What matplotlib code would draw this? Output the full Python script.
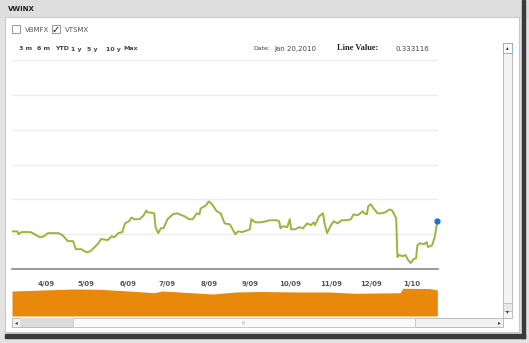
import numpy as np
import pandas as pd
import matplotlib.pyplot as plt
from matplotlib.patches import Rectangle

# price line (VTSMX relative value)
dates = ["2009-03-06", "2009-03-10", "2009-03-11", "2009-03-13", "2009-03-17", "2009-03-20",
         "2009-03-23", "2009-03-27", "2009-03-30", "2009-04-02", "2009-04-06", "2009-04-10",
         "2009-04-13", "2009-04-17", "2009-04-21", "2009-04-23", "2009-04-27", "2009-05-01",
         "2009-05-04", "2009-05-08", "2009-05-10", "2009-05-12", "2009-05-17", "2009-05-20",
         "2009-05-22", "2009-05-25", "2009-05-28", "2009-05-30", "2009-06-02", "2009-06-04",
         "2009-06-06", "2009-06-10", "2009-06-13", "2009-06-15", "2009-06-16", "2009-06-21",
         "2009-06-22", "2009-06-24", "2009-06-26", "2009-06-28", "2009-07-01", "2009-07-05",
         "2009-07-08", "2009-07-14", "2009-07-17", "2009-07-20", "2009-07-23", "2009-07-25",
         "2009-07-26", "2009-07-30", "2009-08-01", "2009-08-03", "2009-08-04", "2009-08-07",
         "2009-08-10", "2009-08-13", "2009-08-17", "2009-08-19", "2009-08-21", "2009-08-23",
         "2009-08-26", "2009-08-30", "2009-09-01", "2009-09-02", "2009-09-05", "2009-09-09",
         "2009-09-13", "2009-09-16", "2009-09-21", "2009-09-23", "2009-09-24", "2009-09-26",
         "2009-09-29", "2009-10-01", "2009-10-02", "2009-10-05", "2009-10-08", "2009-10-11",
         "2009-10-14", "2009-10-17", "2009-10-19", "2009-10-20", "2009-10-23", "2009-10-26",
         "2009-10-27", "2009-10-29", "2009-11-01", "2009-11-03", "2009-11-06", "2009-11-09",
         "2009-11-13", "2009-11-16", "2009-11-18", "2009-11-21", "2009-11-24", "2009-11-25",
         "2009-11-26", "2009-11-28", "2009-11-29", "2009-12-01", "2009-12-03", "2009-12-06",
         "2009-12-09", "2009-12-12", "2009-12-15", "2009-12-17", "2009-12-20", "2009-12-21",
         "2009-12-22", "2009-12-25", "2009-12-27", "2009-12-29", "2009-12-31", "2010-01-02",
         "2010-01-04", "2010-01-05", "2010-01-07", "2010-01-10", "2010-01-12", "2010-01-13",
         "2010-01-16", "2010-01-18", "2010-01-20"]
values = [0.304, 0.304, 0.296, 0.302, 0.302, 0.302,
          0.296, 0.287, 0.290, 0.299, 0.299, 0.299,
          0.293, 0.276, 0.276, 0.253, 0.253, 0.244,
          0.247, 0.262, 0.270, 0.282, 0.279, 0.290,
          0.287, 0.299, 0.302, 0.327, 0.333, 0.344,
          0.339, 0.339, 0.350, 0.364, 0.359, 0.356,
          0.316, 0.299, 0.313, 0.313, 0.339, 0.353,
          0.356, 0.347, 0.339, 0.339, 0.356, 0.353,
          0.370, 0.379, 0.390, 0.384, 0.379, 0.362,
          0.356, 0.327, 0.324, 0.310, 0.296, 0.304,
          0.302, 0.307, 0.310, 0.339, 0.330, 0.330,
          0.333, 0.336, 0.336, 0.333, 0.313, 0.319,
          0.316, 0.339, 0.310, 0.310, 0.316, 0.313,
          0.327, 0.322, 0.330, 0.322, 0.347, 0.356,
          0.330, 0.299, 0.322, 0.333, 0.327, 0.336,
          0.336, 0.339, 0.353, 0.350, 0.359, 0.362,
          0.356, 0.353, 0.376, 0.382, 0.370, 0.356,
          0.356, 0.359, 0.367, 0.364, 0.342, 0.230,
          0.236, 0.233, 0.236, 0.222, 0.213, 0.224,
          0.227, 0.264, 0.270, 0.267, 0.273, 0.259,
          0.264, 0.287, 0.333]

# volume strip
vol_dates = ["2009-03-06", "2009-04-21", "2009-05-11", "2009-06-02", "2009-06-21", "2009-06-27",
             "2009-07-10", "2009-08-04", "2009-08-21", "2009-09-09", "2009-10-08", "2009-10-31",
             "2009-11-19", "2009-12-23", "2009-12-25", "2010-01-14", "2010-01-20"]
vol_values = [25, 27, 26.7, 25, 23.3, 25, 24, 22, 24, 24.5, 24, 24, 22.7, 23.3, 27.7, 27.5, 26]

tick_dates = ["2009-04-01", "2009-05-01", "2009-06-01", "2009-07-01", "2009-08-01",
              "2009-09-01", "2009-10-01", "2009-11-01", "2009-12-01", "2010-01-01"]
tick_labels = ["4/09", "5/09", "6/09", "7/09", "8/09", "9/09", "10/09", "11/09", "12/09", "1/10"]

d = pd.to_datetime(dates)
vd = pd.to_datetime(vol_dates)
td = pd.to_datetime(tick_dates)
W, H = 529, 343
x0, x1 = pd.Timestamp("2009-03-06"), pd.Timestamp("2010-01-20 12:00")

fig = plt.figure(figsize=(W / 100, H / 100), dpi=100)
fig.patch.set_facecolor('#e3e3e3')

"window chrome drawn in pixel coordinates"
bg = fig.add_axes([0, 0, 1, 1])
bg.set_xlim(0, W)
bg.set_ylim(H, 0)
bg.axis('off')
bg.add_patch(Rectangle((0, 0), W, 17, color='#dedede'))
bg.add_patch(Rectangle((5, 17), 514, 315, facecolor='white', edgecolor='#c8c8c8', lw=0.8))
bg.add_patch(Rectangle((522, 0), 3, 338, color='#3a3a3a'))
bg.add_patch(Rectangle((5, 334), 520, 4, color='#3a3a3a'))
bg.text(8, 9, 'VWINX', fontsize=5, fontweight='bold', color='#222222', va='center')

"checkboxes"
for cx, lab, chk in [(12, 'VBMFX', False), (52, 'VTSMX', True)]:
    bg.add_patch(Rectangle((cx, 25), 8, 8, facecolor='white', edgecolor='#999999', lw=0.7))
    if chk:
        bg.text(cx + 4, 29.5, '✓', fontsize=7, ha='center', va='center', color='#111111')
    bg.text(cx + 13, 29.5, lab, fontsize=5, va='center', color='#555555')

for bx, lab in [(19, '3 m'), (37, '6 m'), (55, 'YTD'), (71, '1 y'), (87, '5 y'), (106, '10 y'), (123, 'Max')]:
    bg.text(bx, 49, lab, fontsize=4.5, fontweight='bold', va='center', color='#444444')
bg.text(253, 49, 'Date:', fontsize=4.4, va='center', color='#444444')
bg.text(274, 49, 'Jan 20,2010', fontsize=5, va='center', color='#444444')
bg.text(337, 48.5, 'Line Value:', fontsize=6, fontweight='bold', family='Liberation Serif',
        va='center', color='#222222')
bg.text(395, 49, '0.333116', fontsize=5, va='center', color='#444444')

"vertical scrollbar"
bg.add_patch(Rectangle((503, 43), 9, 275, facecolor='#f4f4f4', edgecolor='#bbbbbb', lw=0.7))
bg.add_patch(Rectangle((503, 43), 9, 10, facecolor='white', edgecolor='#8fb7d9', lw=0.8))
bg.text(507.5, 48, '▴', fontsize=4, ha='center', va='center', color='#333333')
bg.add_patch(Rectangle((503, 303), 9, 8, facecolor='#e8e8e8', edgecolor='#bbbbbb', lw=0.6))
bg.text(507.5, 312, '▾', fontsize=4, ha='center', va='center', color='#333333')

"horizontal scrollbar"
bg.add_patch(Rectangle((12, 318), 491, 9, facecolor='#f2f2f2', edgecolor='#bbbbbb', lw=0.7))
bg.add_patch(Rectangle((20, 318), 53, 9, facecolor='#dcdcdc', edgecolor='none'))
bg.add_patch(Rectangle((73, 318), 342, 9, facecolor='#fafafa', edgecolor='#c4c4c4', lw=0.6))
bg.text(16, 322.5, '◂', fontsize=4, ha='center', va='center', color='#333333')
bg.text(499, 322.5, '▸', fontsize=4, ha='center', va='center', color='#333333')
bg.text(244, 322.5, '|||', fontsize=3, ha='center', va='center', color='#999999')

"main price chart"
ax = fig.add_axes([12 / W, 1 - 269 / H, 426 / W, 210 / H])
ax.set_facecolor('none')
ax.plot(d, values, color='#9bb43e', lw=1.4, solid_joinstyle='round')
ax.plot(d[-1:], values[-1:], 'o', color='#1f6fd8', ms=3.5, clip_on=False)
ax.set_yticks(np.arange(0.296, 0.8, 0.1))
ax.grid(axis='y', color='#ececec', lw=1)
ax.tick_params(left=False, labelleft=False, bottom=False)
ax.set_xticks(td)
ax.set_xticklabels(tick_labels, fontsize=5, color='#555555', fontweight='bold')
ax.tick_params(axis='x', pad=5)
ax.set_xlim(x0, x1)
ax.set_ylim(0.196, 0.799)
for s in ['top', 'left', 'right']:
    ax.spines[s].set_visible(False)
ax.spines['bottom'].set_color('#888888')
ax.spines['bottom'].set_linewidth(1.2)

"volume strip"
av = fig.add_axes([12 / W, 1 - 316 / H, 426 / W, 30 / H])
av.fill_between(vd, vol_values, 0, color='#e8890c', lw=0)
av.set_xlim(x0, x1)
av.set_ylim(0, 30)
av.axis('off')

plt.savefig('out.png', dpi=100, facecolor=fig.get_facecolor())
